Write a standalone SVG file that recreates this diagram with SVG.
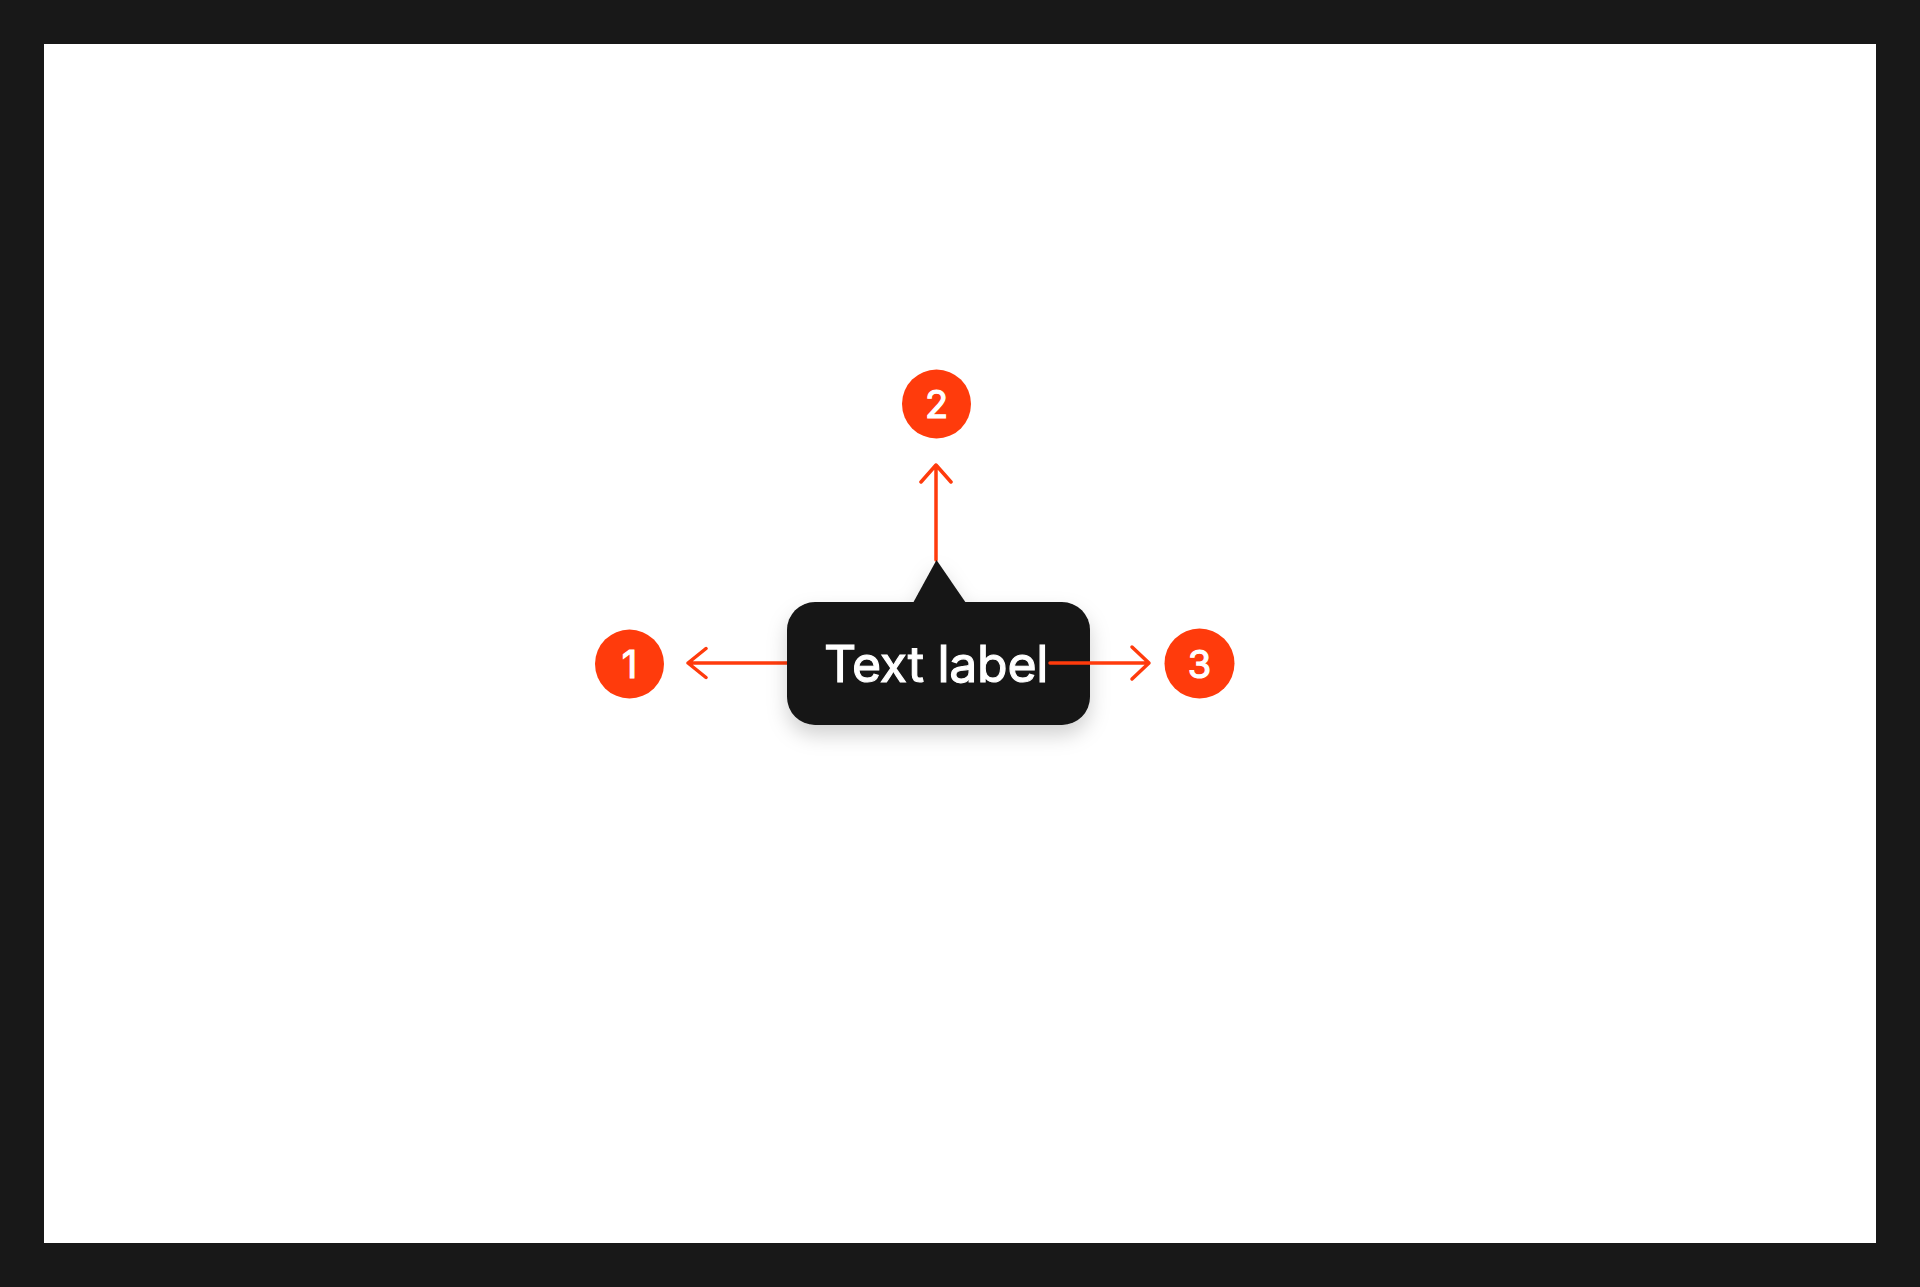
<svg xmlns="http://www.w3.org/2000/svg" width="1920" height="1287" viewBox="0 0 1920 1287">
  <defs>
    <style>
      .badge { fill: #FF3B0C; }
      .num { fill: #FFFFFF; stroke: #FFFFFF; stroke-width: 1.2; font-family: Inter, "Liberation Sans", sans-serif; font-size: 38px; text-anchor: middle; }
      .label { fill: #FFFFFF; stroke: #FFFFFF; stroke-width: 1.1; font-family: Inter, "Liberation Sans", sans-serif; font-size: 50px; letter-spacing: -0.3px; text-anchor: middle; }
      .conn { stroke: #FF3B0C; stroke-width: 3.5; fill: none; stroke-linecap: round; stroke-linejoin: round; }
    </style>
    <filter id="shadow" x="-30%" y="-30%" width="160%" height="180%">
      <feDropShadow dx="0" dy="10" stdDeviation="10" flood-color="#000000" flood-opacity="0.18"/>
    </filter>
  </defs>
  <rect x="0" y="0" width="1920" height="1287" fill="#181818"/>
  <rect x="44" y="44" width="1832" height="1199" fill="#FFFFFF"/>

  <g id="connectors">
    <path class="conn" d="M787 663 H688 M706 648.5 L688 663 L706 677.5"/>
    <path class="conn" d="M936 560 V465 M921 482 L936 465 L951 482"/>
  </g>

  <g id="tooltip">
    <g filter="url(#shadow)">
      <rect x="787" y="602" width="303" height="123" rx="28" ry="28" fill="#141414"/>
      <path d="M913 603 L936.5 560 L966 603 Z" fill="#141414"/>
    </g>
    <text class="label" x="936" y="682">Text label</text>
  </g>

  <g id="connector-3">
    <path class="conn" d="M1050 663 H1148 M1132 647 L1149 663 L1132 679"/>
  </g>

  <g id="badge-1">
    <circle class="badge" cx="629.5" cy="664" r="34.5"/>
    <text class="num" x="629.5" y="678">1</text>
  </g>
  <g id="badge-2">
    <circle class="badge" cx="936.5" cy="404" r="34.5"/>
    <text class="num" x="936.5" y="418">2</text>
  </g>
  <g id="badge-3">
    <circle class="badge" cx="1199.5" cy="663.5" r="35"/>
    <text class="num" x="1199.5" y="677.5">3</text>
  </g>
</svg>
